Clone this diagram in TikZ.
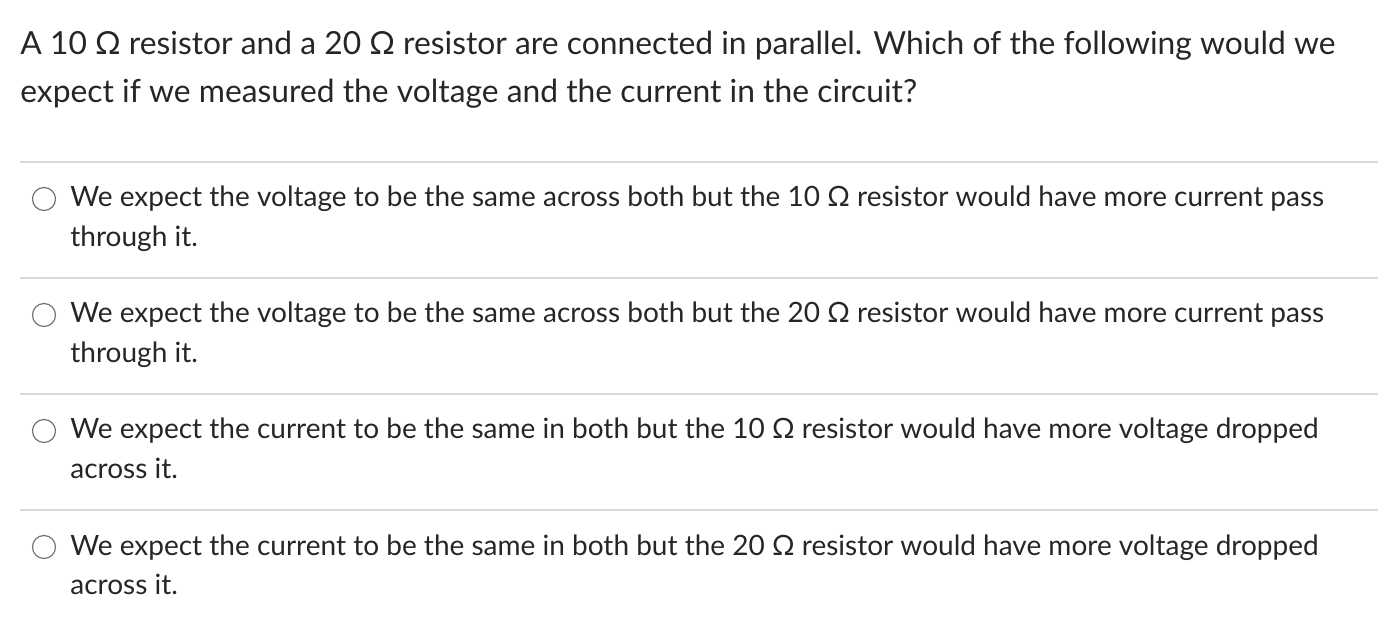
\documentclass[tikz,border=0pt]{standalone}
\usepackage{fontspec}
\setmainfont{Lato}
\begin{document}
\begin{tikzpicture}[x=0.5pt,y=-0.5pt,
  q/.style={anchor=base west,inner sep=0pt,font=\fontsize{15.9}{18}\selectfont,text=black!85},
  o/.style={anchor=base west,inner sep=0pt,font=\fontsize{14}{16}\selectfont,text=black!85},
  rule/.style={draw=black!15,line width=0.6pt},
  radio/.style={circle,draw=black!55,line width=0.6pt,minimum size=11.5pt,inner sep=0pt}]
\useasboundingbox (0,0) rectangle (1386,640);
\node[q] (q1) at (20,55) {A 10 Ω resistor and a 20 Ω resistor are connected in parallel. Which of the following would we};
\node[q] (q2) at (20,103) {expect if we measured the voltage and the current in the circuit?};
\foreach \i/\r/\a/\b in {0/1/We expect the voltage to be the same across both but the 10 Ω resistor would have more current pass/through it.,
 1/2/We expect the voltage to be the same across both but the 20 Ω resistor would have more current pass/through it.,
 2/3/We expect the current to be the same in both but the 10 Ω resistor would have more voltage dropped/across it.,
 3/4/We expect the current to be the same in both but the 20 Ω resistor would have more voltage dropped/across it.}{
  \coordinate (l\r a) at (20,162+116*\i);
  \coordinate (l\r b) at (1378,162+116*\i);
  \draw[rule] (l\r a) -- (l\r b);
  \node[radio] (r\r) at (44,199+116*\i) {};
  \node[o] (a\r) at (70,207+116*\i) {\a};
  \node[o] (b\r) at (70,247+116*\i) {\b};
}
\end{tikzpicture}
\end{document}
